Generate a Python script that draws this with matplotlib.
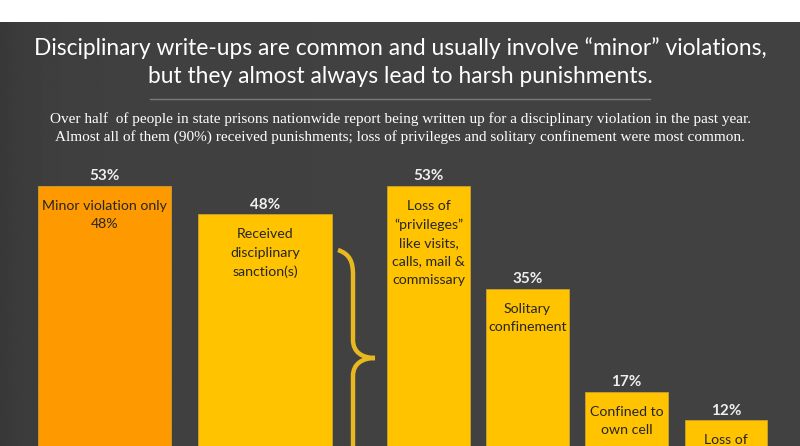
import numpy as np
import matplotlib
matplotlib.use("Agg")
import matplotlib.pyplot as plt
from matplotlib.path import Path
from matplotlib.patches import PathPatch

# data
values = [53, 48, 53, 35, 17, 12]
bar_text = ["Minor violation only\n48%",
            "Received\ndisciplinary\nsanction(s)",
            "Loss of\n\u201cprivileges\u201d\nlike visits,\ncalls, mail &\ncommissary",
            "Solitary\nconfinement",
            "Confined to\nown cell",
            "Loss of"]
bar_colors = ["#FF9900", "#FFC300", "#FFC300", "#FFC300", "#FFC300", "#FFC300"]

title = "Disciplinary write-ups are common and usually involve \u201cminor\u201d violations,\nbut they almost always lead to harsh punishments."
subtitle = ("Over half  of people in state prisons nationwide report being written up for a disciplinary violation in the past year.\n"
            "Almost all of them (90%) received punishments; loss of privileges and solitary confinement were most common.")

# layout (pixels across an 800 px wide figure)
xpos = [104.5, 265, 428.5, 527.5, 626.5, 726]
widths = [133, 134, 83, 83, 83, 82]

W, H = 800, 446
fig = plt.figure(figsize=(8, 4.46), dpi=100, facecolor="white")

# dark background, slightly darker at the far left
bg = fig.add_axes([0, 0, 1, (H - 22) / H])
gx = np.linspace(0, 1, 400)
gy = np.linspace(0, 1, 200)
XX, YY = np.meshgrid(gx, gy)
grad = 0.25 - 0.03 * np.exp(-XX / 0.04) + 0.01 * XX
bg.imshow(grad, cmap="gray", vmin=0, vmax=1, aspect="auto", extent=[0, 1, 0, 1])
bg.set_axis_off()

# bar axes, baseline sits below the bottom edge
base_px = 489
top_px = 489 - 60 * 5.72
ax = fig.add_axes([0, (H - base_px) / H, 1, (base_px - top_px) / H])
ax.set_xlim(0, W)
ax.set_ylim(0, 60)
ax.patch.set_alpha(0)
ax.set_axis_off()

bars = ax.bar(xpos, values, width=widths, color=bar_colors,
              edgecolor="#C9A030", linewidth=0.6, zorder=2)

for x, v, t in zip(xpos, values, bar_text):
    ax.annotate(f"{v}%", (x, v), xytext=(0, 2), textcoords="offset points",
                ha="center", va="bottom", color="#EEEEEE", fontsize=11,
                fontweight="bold", family="Lato")
    ax.annotate(t, (x, v), xytext=(0, -10), textcoords="offset points",
                ha="center", va="top", color="#262626", fontsize=10.2,
                family="Lato", linespacing=1.64)

# overlay in pixel coords for the title block and brace
ov = fig.add_axes([0, 0, 1, 1])
ov.set_xlim(0, W)
ov.set_ylim(H, 0)
ov.patch.set_alpha(0)
ov.set_axis_off()

ov.text(400, 62, title, ha="center", va="center", color="white",
        fontsize=16.4, family="Lato", linespacing=1.4)
ov.plot([150, 650], [99, 99], color="#7A7A7A", lw=1)
ov.text(400, 128, subtitle, ha="center", va="center", color="white",
        fontsize=11, family="Liberation Serif", linespacing=1.35)

# curly brace
verts = [(338, 250), (350, 254), (353, 262), (353, 275),
         (353, 340),
         (353, 352), (362, 358), (375, 358),
         (362, 358), (353, 364), (353, 376),
         (353, 460)]
codes = [Path.MOVETO, Path.CURVE4, Path.CURVE4, Path.CURVE4,
         Path.LINETO,
         Path.CURVE4, Path.CURVE4, Path.CURVE4,
         Path.CURVE4, Path.CURVE4, Path.CURVE4,
         Path.LINETO]
ov.add_patch(PathPatch(Path(verts, codes), fill=False, edgecolor="#E8B820",
                       lw=3.2, capstyle="butt", joinstyle="miter"))

fig.savefig("out.png", dpi=100, facecolor="white")
